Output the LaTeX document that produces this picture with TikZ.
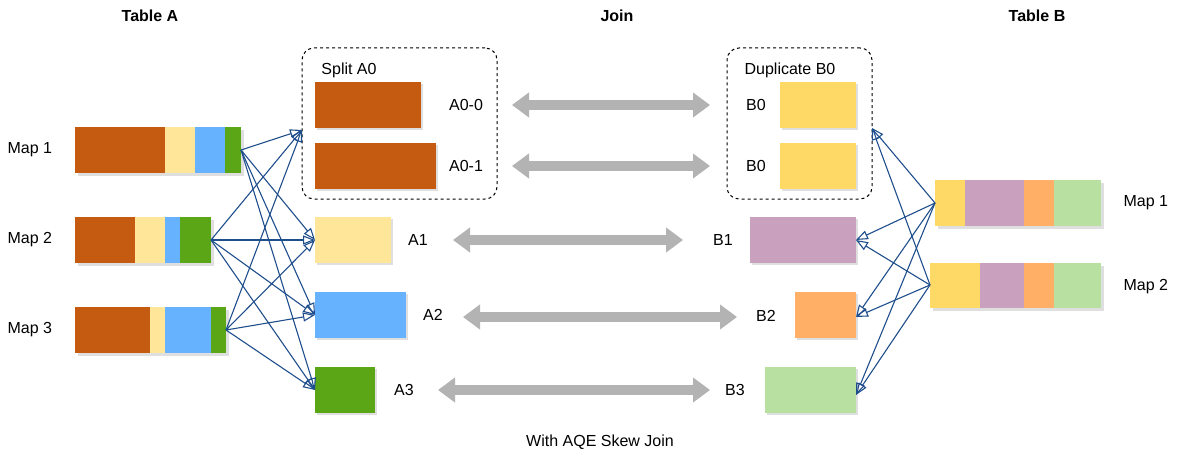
\documentclass[tikz,border=0pt]{standalone}
\usepackage{fontspec}
\setmainfont{Liberation Sans}
\usetikzlibrary{arrows.meta,shadows}
\definecolor{cbrown}{HTML}{C55A11}
\definecolor{clyel}{HTML}{FFE699}
\definecolor{cblue}{HTML}{66B2FF}
\definecolor{cgreen}{HTML}{5BA617}
\definecolor{cyel}{HTML}{FFD966}
\definecolor{cpur}{HTML}{C9A0BE}
\definecolor{corg}{HTML}{FFB066}
\definecolor{clgr}{HTML}{B8E0A0}
\definecolor{carr}{HTML}{1F4E8C}
\definecolor{cgrey}{HTML}{B3B3B3}
\tikzset{
 blk/.style={inner sep=0pt,outer sep=0pt,draw=none,drop shadow={shadow xshift=2pt,shadow yshift=-2pt,opacity=0.25}},
 lbl/.style={font=\fontsize{16}{16}\selectfont},
 ttl/.style={font=\bfseries\fontsize{16}{16}\selectfont},
 arr/.style={draw=carr,line width=1.1pt,-{Triangle[open,length=12pt,width=9pt]}},
 dbl/.style={draw=cgrey,line width=10pt,{Triangle[length=17pt,width=24pt]}-{Triangle[length=17pt,width=24pt]}},
 grp/.style={draw,dashed,rounded corners=12pt,line width=1pt},
 shd/.style={drop shadow={shadow xshift=3pt,shadow yshift=-3pt,opacity=0.25}}
}
\begin{document}
\begin{tikzpicture}[x=1pt,y=-1pt]
\useasboundingbox (0,0) rectangle (1194,476);
% titles
\node[ttl] (ta) at (150,16) {Table A};
\node[ttl] (tj) at (617,16) {Join};
\node[ttl] (tb) at (1037,16) {Table B};
\node[lbl] (cap) at (600,442) {With AQE Skew Join};
% left maps
\node[lbl,anchor=west] (lm1) at (4,150) {Map 1};
\node[lbl,anchor=west] (lm2) at (4,240) {Map 2};
\node[lbl,anchor=west] (lm3) at (4,330) {Map 3};
\fill[cbrown,shd] (75,127) rectangle (241,173);
\fill[cbrown,shd] (75,217) rectangle (211,263);
\fill[cbrown,shd] (75,307) rectangle (226,353);
\fill[clyel] (165,127) rectangle (195,173); \fill[cblue] (195,127) rectangle (225,173); \fill[cgreen] (225,127) rectangle (241,173);
\fill[clyel] (135,217) rectangle (165,263); \fill[cblue] (165,217) rectangle (180,263); \fill[cgreen] (180,217) rectangle (211,263);
\fill[clyel] (150,307) rectangle (165,353); \fill[cblue] (165,307) rectangle (211,353); \fill[cgreen] (211,307) rectangle (226,353);
\coordinate (s1) at (241,150); \coordinate (s2) at (211,240); \coordinate (s3) at (226,330);
% split box
\node[grp,minimum width=195pt,minimum height=151pt] (split) at (399.5,123.5) {};
\node[lbl] (splt) at (349,70) {Split A0};
\node[blk,fill=cbrown,minimum width=106pt,minimum height=46pt] (a00) at (368,105) {};
\node[blk,fill=cbrown,minimum width=121pt,minimum height=46pt] (a01) at (375.5,166) {};
\node[lbl] (la00) at (466,105) {A0-0};
\node[lbl] (la01) at (466,166) {A0-1};
\node[blk,fill=clyel,minimum width=76pt,minimum height=46pt] (a1) at (353,240) {};
\node[blk,fill=cblue,minimum width=91pt,minimum height=46pt] (a2) at (360.5,315) {};
\node[blk,fill=cgreen,minimum width=60pt,minimum height=46pt] (a3) at (345,390) {};
\node[lbl] (la1) at (418,240) {A1};
\node[lbl] (la2) at (433,315) {A2};
\node[lbl] (la3) at (404,390) {A3};
\coordinate (ta0) at (302,130);
\foreach \s in {s1,s2,s3}{
 \draw[arr] (\s) -- (ta0);
 \draw[arr] (\s) -- (a1.west);
 \draw[arr] (\s) -- (a2.west);
 \draw[arr] (\s) -- (a3.west);
}
% duplicate box
\node[grp,minimum width=145pt,minimum height=151pt] (dup) at (799.5,123.5) {};
\node[lbl] (dupt) at (790,70) {Duplicate B0};
\node[blk,fill=cyel,minimum width=76pt,minimum height=46pt] (b0a) at (818,105) {};
\node[blk,fill=cyel,minimum width=76pt,minimum height=46pt] (b0b) at (818,166) {};
\node[lbl] (lb0a) at (756,105) {B0};
\node[lbl] (lb0b) at (756,166) {B0};
\node[blk,fill=cpur,minimum width=106pt,minimum height=46pt] (b1) at (803,240) {};
\node[blk,fill=corg,minimum width=61pt,minimum height=46pt] (b2) at (825.5,315) {};
\node[blk,fill=clgr,minimum width=91pt,minimum height=46pt] (b3) at (810.5,390) {};
\node[lbl] (lb1) at (723,240) {B1};
\node[lbl] (lb2) at (766,316) {B2};
\node[lbl] (lb3) at (735,390) {B3};
% join arrows
\coordinate (j0l) at (512,105); \coordinate (j0r) at (710,105);
\coordinate (j1l) at (512,166); \coordinate (j1r) at (710,166);
\coordinate (j2l) at (453,240); \coordinate (j2r) at (683,240);
\coordinate (j3l) at (463,317); \coordinate (j3r) at (737,317);
\coordinate (j4l) at (438,390); \coordinate (j4r) at (710,390);
\draw[dbl] (j0l) -- (j0r);
\draw[dbl] (j1l) -- (j1r);
\draw[dbl] (j2l) -- (j2r);
\draw[dbl] (j3l) -- (j3r);
\draw[dbl] (j4l) -- (j4r);
% right maps
\fill[cyel,shd] (935,180) rectangle (1101,226);
\fill[cpur] (965,180) rectangle (1024,226); \fill[corg] (1024,180) rectangle (1054,226); \fill[clgr] (1054,180) rectangle (1101,226);
\fill[cyel,shd] (930,263) rectangle (1101,308);
\fill[cpur] (980,263) rectangle (1024,308); \fill[corg] (1024,263) rectangle (1054,308); \fill[clgr] (1054,263) rectangle (1101,308);
\node[lbl,anchor=west] (rm1) at (1120,203) {Map 1};
\node[lbl,anchor=west] (rm2) at (1120,287) {Map 2};
\coordinate (r1) at (935,203); \coordinate (r2) at (930,285);
\coordinate (tb0) at (872,128);
\foreach \s in {r1,r2}{
 \draw[arr] (\s) -- (tb0);
 \draw[arr] (\s) -- (b1.east);
 \draw[arr] (\s) -- ([yshift=-2pt]b2.east);
 \draw[arr] (\s) -- ([yshift=-5pt]b3.east);
}
\end{tikzpicture}
\end{document}
